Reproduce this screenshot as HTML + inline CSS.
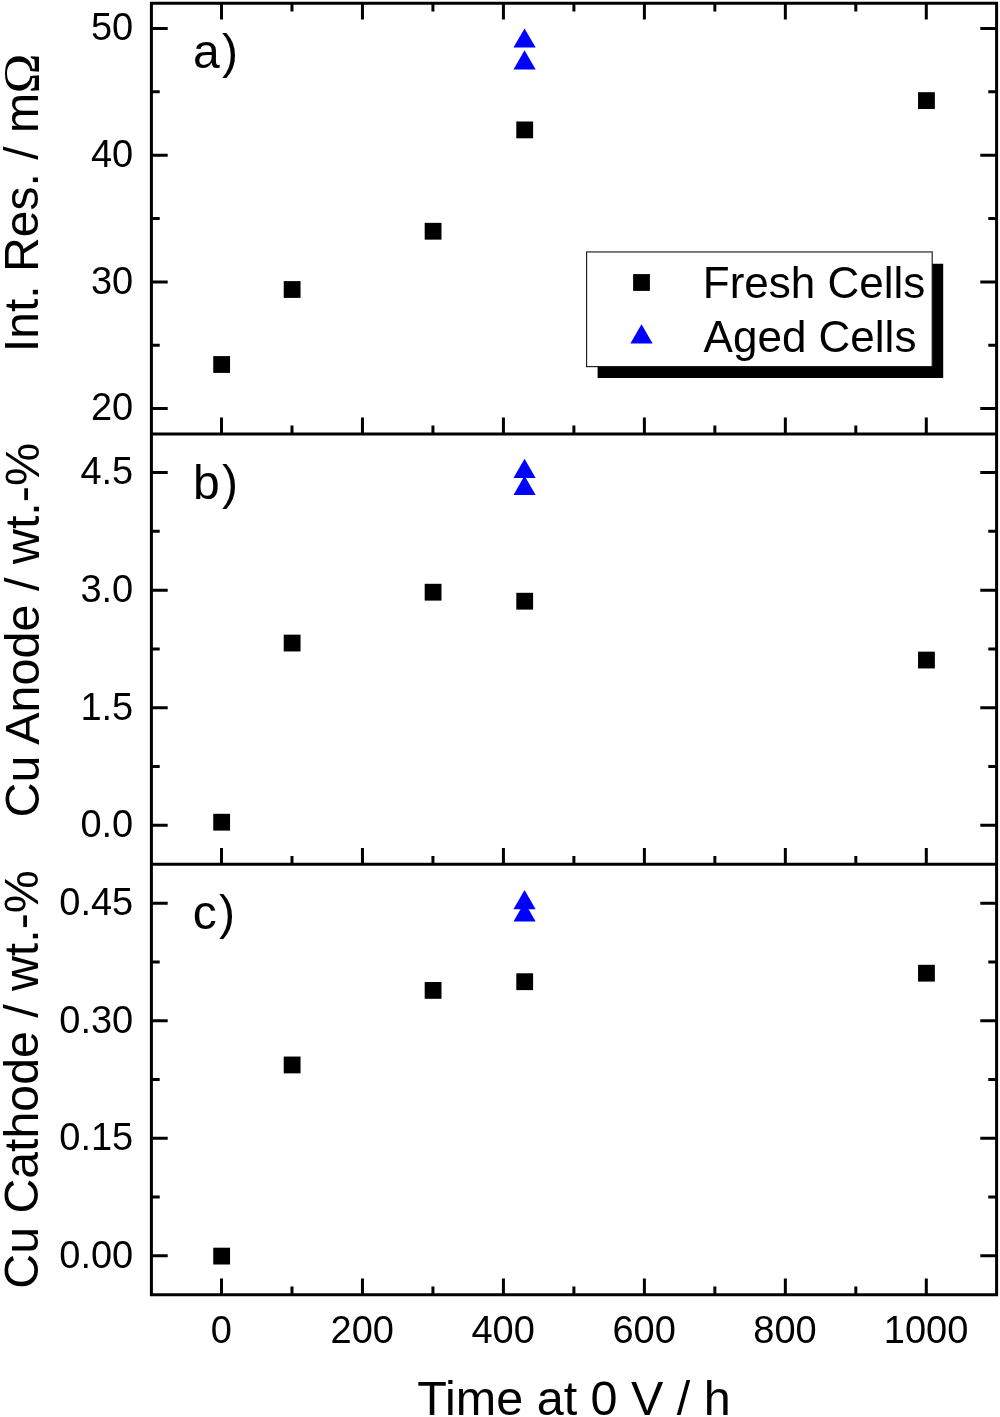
<!DOCTYPE html>
<html lang="en"><head><meta charset="utf-8"><title>Figure</title>
<style>html,body{margin:0;padding:0;background:#fff}svg{display:block}text{font-family:"Liberation Sans",sans-serif;fill:#000}.tk{font-size:38px}.tt{font-size:48px}.lg{font-size:44px}.om{font-family:"Liberation Serif","DejaVu Serif",serif}</style></head><body>
<svg width="1000" height="1417" viewBox="0 0 1000 1417">
<rect x="0" y="0" width="1000" height="1417" fill="#fff"/>
<path d="M151.4 3.3H996.6V1294.7H151.4ZM151.4 433.9H996.6M151.4 864.3H996.6M151.4 408.6h16.3M996.6 408.6h-16.3M151.4 281.9h16.3M996.6 281.9h-16.3M151.4 155.2h16.3M996.6 155.2h-16.3M151.4 28.5h16.3M996.6 28.5h-16.3M151.4 345.25h8.3M996.6 345.25h-8.3M151.4 218.55h8.3M996.6 218.55h-8.3M151.4 91.85h8.3M996.6 91.85h-8.3M221.5 433.9v-16.3M362.46 433.9v-16.3M503.42 433.9v-16.3M644.38 433.9v-16.3M785.34 433.9v-16.3M926.3 433.9v-16.3M291.98 433.9v-8.3M432.94 433.9v-8.3M573.9 433.9v-8.3M714.86 433.9v-8.3M855.82 433.9v-8.3M151.4 825.2h16.3M996.6 825.2h-16.3M151.4 707.67h16.3M996.6 707.67h-16.3M151.4 590.13h16.3M996.6 590.13h-16.3M151.4 472.6h16.3M996.6 472.6h-16.3M151.4 766.43h8.3M996.6 766.43h-8.3M151.4 648.9h8.3M996.6 648.9h-8.3M151.4 531.37h8.3M996.6 531.37h-8.3M221.5 864.3v-16.3M362.46 864.3v-16.3M503.42 864.3v-16.3M644.38 864.3v-16.3M785.34 864.3v-16.3M926.3 864.3v-16.3M291.98 864.3v-8.3M432.94 864.3v-8.3M573.9 864.3v-8.3M714.86 864.3v-8.3M855.82 864.3v-8.3M151.4 1255.8h16.3M996.6 1255.8h-16.3M151.4 1138.3h16.3M996.6 1138.3h-16.3M151.4 1020.8h16.3M996.6 1020.8h-16.3M151.4 903.3h16.3M996.6 903.3h-16.3M151.4 1197.05h8.3M996.6 1197.05h-8.3M151.4 1079.55h8.3M996.6 1079.55h-8.3M151.4 962.05h8.3M996.6 962.05h-8.3M221.5 1294.7v-16.3M362.46 1294.7v-16.3M503.42 1294.7v-16.3M644.38 1294.7v-16.3M785.34 1294.7v-16.3M926.3 1294.7v-16.3M291.98 1294.7v-8.3M432.94 1294.7v-8.3M573.9 1294.7v-8.3M714.86 1294.7v-8.3M855.82 1294.7v-8.3M221.5 3.3v16.3M362.46 3.3v16.3M503.42 3.3v16.3M644.38 3.3v16.3M785.34 3.3v16.3M926.3 3.3v16.3M291.98 3.3v8.3M432.94 3.3v8.3M573.9 3.3v8.3M714.86 3.3v8.3M855.82 3.3v8.3" fill="none" stroke="#000" stroke-width="3.0" stroke-linecap="butt" stroke-linejoin="miter"/>
<text class="tk" transform="translate(133.2 420.4) scale(1 1.03)" text-anchor="end">20</text>
<text class="tk" transform="translate(133.2 293.7) scale(1 1.03)" text-anchor="end">30</text>
<text class="tk" transform="translate(133.2 167.0) scale(1 1.03)" text-anchor="end">40</text>
<text class="tk" transform="translate(133.2 40.3) scale(1 1.03)" text-anchor="end">50</text>
<text class="tk" transform="translate(133.2 837.0) scale(1 1.03)" text-anchor="end">0.0</text>
<text class="tk" transform="translate(133.2 719.5) scale(1 1.03)" text-anchor="end">1.5</text>
<text class="tk" transform="translate(133.2 601.9) scale(1 1.03)" text-anchor="end">3.0</text>
<text class="tk" transform="translate(133.2 484.4) scale(1 1.03)" text-anchor="end">4.5</text>
<text class="tk" transform="translate(133.2 1267.6) scale(1 1.03)" text-anchor="end">0.00</text>
<text class="tk" transform="translate(133.2 1150.1) scale(1 1.03)" text-anchor="end">0.15</text>
<text class="tk" transform="translate(133.2 1032.6) scale(1 1.03)" text-anchor="end">0.30</text>
<text class="tk" transform="translate(133.2 915.1) scale(1 1.03)" text-anchor="end">0.45</text>
<text class="tk" transform="translate(221.2 1343.2) scale(1 1.03)" text-anchor="middle">0</text>
<text class="tk" transform="translate(362.2 1343.2) scale(1 1.03)" text-anchor="middle">200</text>
<text class="tk" transform="translate(503.1 1343.2) scale(1 1.03)" text-anchor="middle">400</text>
<text class="tk" transform="translate(644.1 1343.2) scale(1 1.03)" text-anchor="middle">600</text>
<text class="tk" transform="translate(785.0 1343.2) scale(1 1.03)" text-anchor="middle">800</text>
<text class="tk" transform="translate(926.0 1343.2) scale(1 1.03)" text-anchor="middle">1000</text>
<text style="font-size:48.5px" x="574" y="1415" text-anchor="middle">Time at 0 V / h</text>
<text style="font-size:48.1px" transform="translate(38.2 352.2) rotate(-90)">Int. Res. / m</text>
<text class="om" style="font-size:48px" transform="translate(38.2 93.6) rotate(-90) scale(1.126 1.07)">Ω</text>
<text style="font-size:48.5px" transform="translate(39.2 817.6) rotate(-90)">Cu Anode / wt.-%</text>
<text style="font-size:48.26px" transform="translate(37.9 1288.7) rotate(-90)">Cu Cathode / wt.-%</text>
<text class="tt" x="192.9" y="67.5">a<tspan dx="2.4">)</tspan></text>
<text class="tt" x="192.9" y="498.5">b<tspan dx="2.4">)</tspan></text>
<text class="tt" x="192.7" y="928.5">c<tspan dx="2.4">)</tspan></text>
<rect x="213.25" y="356.10" width="16.8" height="16.8" fill="#000"/>
<rect x="283.73" y="281.10" width="16.8" height="16.8" fill="#000"/>
<rect x="424.69" y="222.85" width="16.8" height="16.8" fill="#000"/>
<rect x="516.31" y="121.50" width="16.8" height="16.8" fill="#000"/>
<rect x="918.05" y="92.20" width="16.8" height="16.8" fill="#000"/>
<rect x="213.25" y="813.80" width="16.8" height="16.8" fill="#000"/>
<rect x="283.73" y="634.65" width="16.8" height="16.8" fill="#000"/>
<rect x="424.69" y="583.80" width="16.8" height="16.8" fill="#000"/>
<rect x="516.31" y="592.80" width="16.8" height="16.8" fill="#000"/>
<rect x="918.05" y="651.65" width="16.8" height="16.8" fill="#000"/>
<rect x="213.25" y="1247.70" width="16.8" height="16.8" fill="#000"/>
<rect x="283.73" y="1056.55" width="16.8" height="16.8" fill="#000"/>
<rect x="424.69" y="982.00" width="16.8" height="16.8" fill="#000"/>
<rect x="516.31" y="973.30" width="16.8" height="16.8" fill="#000"/>
<rect x="918.05" y="964.80" width="16.8" height="16.8" fill="#000"/>
<path d="M524.56 28.40L535.66 47.60L513.46 47.60Z" fill="#0000ff"/>
<path d="M524.56 50.20L535.66 69.40L513.46 69.40Z" fill="#0000ff"/>
<path d="M524.56 458.70L535.66 477.90L513.46 477.90Z" fill="#0000ff"/>
<path d="M524.56 475.80L535.66 495.00L513.46 495.00Z" fill="#0000ff"/>
<path d="M524.56 890.10L535.66 909.30L513.46 909.30Z" fill="#0000ff"/>
<path d="M524.56 902.35L535.66 921.55L513.46 921.55Z" fill="#0000ff"/>
<path d="M597.6 263.7H943.2V377.9H597.6Z" fill="#000"/>
<rect x="586.6" y="251.95" width="345.6" height="114.65" fill="#fff" stroke="#1a1a1a" stroke-width="1.15"/>
<rect x="633.10" y="274.10" width="16.8" height="16.8" fill="#000"/>
<path d="M641.5 324.2L652.6 343.4L630.4 343.4Z" fill="#0000ff"/>
<text class="lg" x="702.8" y="297.5">Fresh Cells</text>
<text class="lg" x="703.6" y="351.5">Aged Cells</text>
</svg></body></html>
